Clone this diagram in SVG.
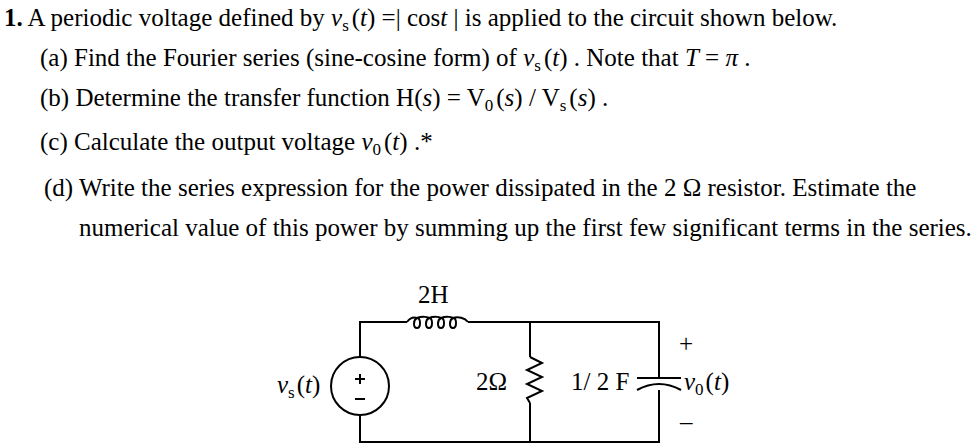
<svg xmlns="http://www.w3.org/2000/svg" width="979" height="448" viewBox="0 0 979 448">
<style>
text{font-family:"Liberation Serif",serif;font-size:25px;fill:#000}
.i{font-style:italic}
.w{stroke:#000;stroke-width:2;fill:none}
</style>
<rect width="979" height="448" fill="#fff"/>
<g id="question">
<text x="4" y="26"><tspan font-weight="bold">1.</tspan>  A periodic voltage defined by <tspan class="i">v</tspan><tspan font-size="17" dy="5">s</tspan><tspan dy="-5" dx="3">(</tspan><tspan class="i">t</tspan>) =| cos<tspan class="i">t</tspan> | is applied to the circuit shown below.</text>
<text x="40" y="66">(a) Find the Fourier series (sine-cosine form) of <tspan class="i">v</tspan><tspan font-size="17" dy="5">s</tspan><tspan dy="-5" dx="3">(</tspan><tspan class="i">t</tspan>) . Note that <tspan class="i">T</tspan> = <tspan class="i">π</tspan> .</text>
<text x="40" y="106">(b) Determine the transfer function H(<tspan class="i">s</tspan>) = V<tspan font-size="17" dy="5">0</tspan><tspan dy="-5" dx="3">(</tspan><tspan class="i">s</tspan>) / V<tspan font-size="17" dy="5">s</tspan><tspan dy="-5" dx="3">(</tspan><tspan class="i">s</tspan>) .</text>
<text x="40" y="150">(c) Calculate the output voltage <tspan class="i">v</tspan><tspan font-size="17" dy="5">0</tspan><tspan dy="-5" dx="3">(</tspan><tspan class="i">t</tspan>) .*</text>
<text x="44" y="196">(d) Write the series expression for the power dissipated in the 2 Ω resistor. Estimate the</text>
<text x="79" y="236">numerical value of this power by summing up the first few significant terms in the series.</text>
</g>
<g id="wires" class="w">
<path d="M360 357V322H407M468 322H659V378M659 390V442H360V415"/>
<path d="M530 322V357M530 403V442"/>
</g>
<g id="source">
<circle cx="360" cy="386" r="29" class="w"/>
<path d="M355 379H365M360 374V384M355 399H365" class="w" stroke-width="1.5"/>
<text x="277" y="393" class="i">v<tspan font-size="17" dy="5" font-style="normal">s</tspan><tspan dy="-5" dx="2" font-style="normal">(</tspan>t<tspan font-style="normal">)</tspan></text>
</g>
<g id="inductor">
<path class="w" stroke-width="1.6" d="M407 322C410 318 414 317 417 318C413 320 413 328 417 328C421 328 421 318 417 318C422 316 429 317 429 318C425 320 425 328 429 328C433 328 433 318 429 318C434 316 441 317 441 318C437 320 437 328 441 328C445 328 445 318 441 318C446 316 453 317 453 318C449 320 449 328 453 328C457 328 457 318 453 318C458 316 465 318 468 322"/>
<text x="418" y="303">2H</text>
</g>
<g id="resistor">
<path class="w" stroke-width="1.6" d="M530 357L542 363L527 370L542 377L527 384L542 391L527 398L530 403"/>
<text x="476" y="390">2Ω</text>
</g>
<g id="capacitor">
<path class="w" d="M637 378H681"/>
<path class="w" d="M637 390Q659 378 681 390"/>
<text x="571" y="390">1/ 2 F</text>
<text x="679" y="352" font-size="18">+</text>
<text x="680" y="430" font-size="20">–</text>
<text x="684" y="390" class="i">v<tspan font-size="17" dy="5" font-style="normal">0</tspan><tspan dy="-5" dx="2" font-style="normal">(</tspan>t<tspan font-style="normal">)</tspan></text>
</g>
</svg>
